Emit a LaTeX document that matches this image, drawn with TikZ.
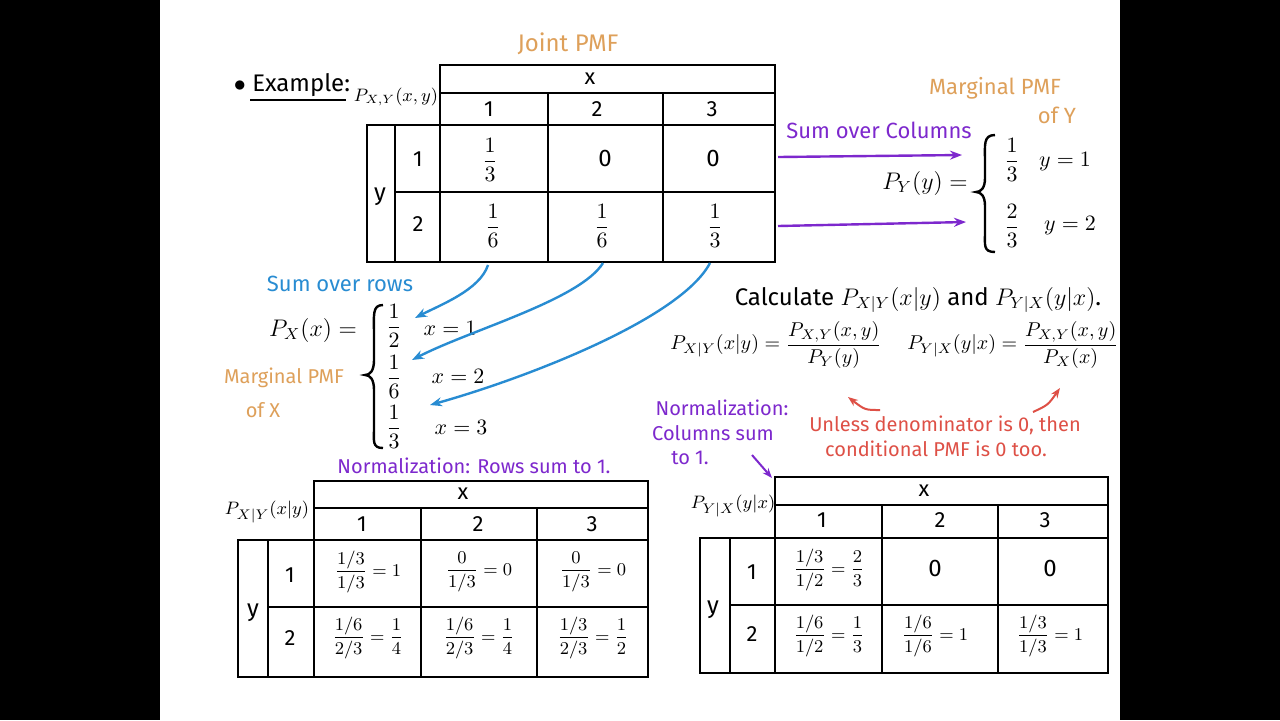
\documentclass[tikz,border=0pt]{standalone}
\usepackage{amsmath}
\usepackage{fontspec}
\setmainfont{Fira Sans}
\usetikzlibrary{arrows.meta}
\definecolor{orn}{RGB}{222,160,90}
\definecolor{pur}{RGB}{125,40,205}
\definecolor{blu}{RGB}{40,140,210}
\definecolor{rd}{RGB}{222,80,70}
\begin{document}
\begin{tikzpicture}[x=0.5pt,y=-0.5pt,
  tbl/.style={line width=1.4pt},
  t/.style={font=\fontsize{11}{13}\selectfont},
  m/.style={font=\fontsize{9.5}{11}\selectfont},
  fm/.style={font=\fontsize{10}{12}\selectfont},
  big/.style={font=\fontsize{12}{14}\selectfont},
  lab/.style={font=\fontsize{10}{12}\selectfont},
  brc/.style={line width=1.2pt},
  parr/.style={pur,line width=1.2pt,-{Stealth[length=6pt]}},
  barr/.style={blu,line width=1.2pt,-{Stealth[length=6pt]}},
  rarr/.style={rd,line width=1pt,-{Stealth[length=5pt]}}]
\fill[black] (0,0) rectangle (1280,720);
\fill[white] (160,0) rectangle (1120,720);
\useasboundingbox (0,0) rectangle (1280,720);
% ---------- top table
\draw[tbl] (440,65) rectangle (775,262);
\draw[tbl] (367,125) rectangle (775,262);
\draw[tbl] (440,93) -- (775,93);
\draw[tbl] (395,192) -- (775,192);
\draw[tbl] (395,125) -- (395,262);
\draw[tbl] (548,93) -- (548,262);
\draw[tbl] (663,93) -- (663,262);
\node[big] (ex) at (292,85) {$\bullet$ Example:};
\draw[line width=0.8pt] (250,100) -- (346,100);
\node[font=\fontsize{9}{11}\selectfont] (pxy) at (396,97) {$P_{X,Y}(x,y)$};
\node[big,orn] (joint) at (568,44) {Joint PMF};
\node[t] at (590,79) {x};
\node[t] at (489,109) {1};\node[t] at (597,109) {2};\node[t] at (712,109) {3};
\node[big] at (380,197) {y};
\node[t] at (418,159) {1};\node[t] at (418,224) {2};
\node[t] (c11) at (490,160) {$\displaystyle\frac13$};
\node[big] (c21) at (605,158) {0};
\node[big] (c31) at (713,158) {0};
\node[t] (c12) at (493,226) {$\displaystyle\frac16$};
\node[t] (c22) at (602,226) {$\displaystyle\frac16$};
\node[t] (c32) at (715,226) {$\displaystyle\frac13$};
% ---------- marginal Y
\node[t,pur] at (879,130) {Sum over Columns};
\node[t,orn] at (995,88) {Marginal PMF};
\node[t,orn] at (1057,115) {of Y};
\node[big] (py) at (925,183) {$P_Y(y)=$};
\draw[brc] (995,135) .. controls (983,135) and (985,145) .. (985,162) -- (985,178)
  .. controls (985,188) and (981,192) .. (976,192) .. controls (981,192) and (985,196) .. (985,206)
  -- (985,232) .. controls (985,245) and (983,252) .. (995,252);
\node[t] (py1v) at (1012,160) {$\dfrac13$};
\node[t] (py1c) at (1065,162) {$y=1$};
\node[t] (py2v) at (1012,226) {$\dfrac23$};
\node[t] (py2c) at (1070,226) {$y=2$};
\coordinate (py1) at (962,155);
\coordinate (py2) at (966,222);
\draw[parr] (778,157) -- (py1);
\draw[parr] (778,226) -- (py2);
% ---------- marginal X
\node[t,blu] at (340,284) {Sum over rows};
\node[big] (px) at (313,330) {$P_X(x)=$};
\draw[brc] (383,305) .. controls (372,305) and (374,315) .. (374,335) -- (374,360)
  .. controls (374,371) and (370,375) .. (365,375) .. controls (370,375) and (374,379) .. (374,390)
  -- (374,428) .. controls (374,441) and (372,448) .. (383,448);
\node[t,inner sep=0.5pt] (px1v) at (394,326) {$\dfrac12$};
\node[t] (px1c) at (450,328) {$x=1$};
\node[t,inner sep=0.5pt] (px2v) at (394,377) {$\dfrac16$};
\node[t] (px2c) at (458,376) {$x=2$};
\node[t,inner sep=0.5pt] (px3v) at (394,427) {$\dfrac13$};
\node[t] (px3c) at (461,427) {$x=3$};
\node[lab,orn] at (284,378) {Marginal PMF};
\node[lab,orn] at (263,410) {of X};
\coordinate (a1) at (488,265);\coordinate (a2) at (603,263);\coordinate (a3) at (710,263);
\coordinate (b1) at (415,318);\coordinate (b2) at (412,360);\coordinate (b3) at (430,405);
\draw[barr] (a1) .. controls (480,290) and (440,305) .. (b1);
\draw[barr] (a2) .. controls (580,300) and (470,330) .. (b2);
\draw[barr] (a3) .. controls (680,320) and (520,380) .. (b3);
% ---------- conditional formulas
\node[big] (calc) at (918,300) {Calculate $P_{X|Y}(x|y)$ and $P_{Y|X}(y|x)$.};
\node[fm] (f1) at (776,345) {$P_{X|Y}(x|y)=\dfrac{P_{X,Y}(x,y)}{P_Y(y)}$};
\node[fm] (f2) at (1013,345) {$P_{Y|X}(y|x)=\dfrac{P_{X,Y}(x,y)}{P_X(x)}$};
\node[lab,rd] (u1) at (945,425) {Unless denominator is 0, then};
\node[lab,rd] (u2) at (936,449) {conditional PMF is 0 too.};
\coordinate (r1s) at (880,410);\coordinate (r1e) at (848,397);
\coordinate (r2s) at (1033,412);\coordinate (r2e) at (1060,388);
\draw[rarr] (r1s) .. controls (865,410) .. (r1e);
\draw[rarr] (r2s) .. controls (1048,405) .. (r2e);
\node[lab,pur] at (722,408) {Normalization:};
\node[lab,pur] at (713,433) {Columns sum};
\node[lab,pur] at (690,458) {to 1.};
\coordinate (n1) at (752,455);\coordinate (n2) at (772,478);
\draw[pur,line width=1pt,-{Stealth[length=5pt]}] (n1) -- (n2);
\node[lab,pur] at (474,466) {Normalization: Rows sum to 1.};
% ---------- bottom left table
\draw[tbl] (314,481) rectangle (648,677);
\draw[tbl] (238,540) rectangle (648,677);
\draw[tbl] (314,508) -- (648,508);
\draw[tbl] (268,607) -- (648,607);
\draw[tbl] (268,540) -- (268,677);
\draw[tbl] (421,508) -- (421,677);
\draw[tbl] (537,508) -- (537,677);
\node[m] (pxgy) at (267,512) {$P_{X|Y}(x|y)$};
\node[t] at (463,494) {x};
\node[t] at (362,524) {1};\node[t] at (478,524) {2};\node[t] at (592,524) {3};
\node[big] at (253,613) {y};
\node[t] at (290,575) {1};\node[t] at (290,638) {2};
\node[m] at (368,572) {$\dfrac{1/3}{1/3}=1$};
\node[m] at (479,572) {$\dfrac{0}{1/3}=0$};
\node[m] at (593,572) {$\dfrac{0}{1/3}=0$};
\node[m] at (368,638) {$\dfrac{1/6}{2/3}=\dfrac14$};
\node[m] at (479,638) {$\dfrac{1/6}{2/3}=\dfrac14$};
\node[m] at (593,638) {$\dfrac{1/3}{2/3}=\dfrac12$};
% ---------- bottom right table
\draw[tbl] (775,477) rectangle (1108,673);
\draw[tbl] (700,538) rectangle (1108,673);
\draw[tbl] (775,505) -- (1108,505);
\draw[tbl] (730,605) -- (1108,605);
\draw[tbl] (730,538) -- (730,673);
\draw[tbl] (882,505) -- (882,673);
\draw[tbl] (998,505) -- (998,673);
\node[m] (pygx) at (733,506) {$P_{Y|X}(y|x)$};
\node[t] at (924,491) {x};
\node[t] at (822,520) {1};\node[t] at (940,520) {2};\node[t] at (1045,520) {3};
\node[big] at (713,610) {y};
\node[t] at (752,572) {1};\node[t] at (752,634) {2};
\node[m] at (829,570) {$\dfrac{1/3}{1/2}=\dfrac23$};
\node[big] at (935,568) {0};
\node[big] at (1050,568) {0};
\node[m] at (829,636) {$\dfrac{1/6}{1/2}=\dfrac13$};
\node[m] at (935,636) {$\dfrac{1/6}{1/6}=1$};
\node[m] at (1050,636) {$\dfrac{1/3}{1/3}=1$};
\end{tikzpicture}
\end{document}
